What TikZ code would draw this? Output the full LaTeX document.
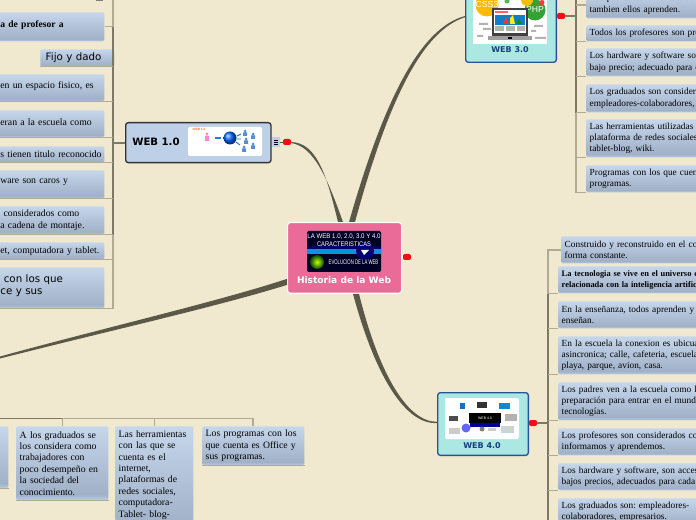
\documentclass[tikz,border=0pt]{standalone}
\usepackage{fontspec}
\setmainfont{Liberation Serif}
\newfontfamily\labelfont{DejaVu Sans}
\newfontfamily\tinyfont{Liberation Sans}
\usetikzlibrary{calc}
\definecolor{paper}{RGB}{240,233,208}
\definecolor{leaftop}{RGB}{198,215,236}
\definecolor{leafmid}{RGB}{160,177,200}
\definecolor{leafend}{RGB}{186,205,230}
\definecolor{branchdark}{RGB}{92,88,72}
\definecolor{trunkdark}{RGB}{125,120,100}
\definecolor{trunklight}{RGB}{176,171,148}
\definecolor{rootpink}{RGB}{234,106,152}
\definecolor{tealbox}{RGB}{172,232,226}
\definecolor{tealedge}{RGB}{40,84,150}
\definecolor{steelbox}{RGB}{189,208,232}
\definecolor{webblue}{RGB}{22,62,130}
\definecolor{dotred}{RGB}{250,10,20}
\pgfdeclareverticalshading{leafshade}{100bp}{color(0bp)=(leafend); color(25bp)=(leafend); color(29bp)=(leafmid); color(75bp)=(leaftop); color(100bp)=(leaftop)}
\newcommand{\cutin}{\hspace*{20pt}}
\tikzset{
  leaf/.style 2 args={shading=leafshade,rounded corners=1pt,anchor=north west,inner xsep=2.6pt,inner ysep=1.3pt,
    minimum width=#1*0.75pt,minimum height=#2*0.75pt,text width=#1*0.75pt-5.2pt,align=left,
    font=\fontsize{7.3}{8.55}\selectfont,execute at begin node={\hyphenpenalty=10000\frenchspacing},execute at end node={\par\vskip 2.4pt}},
  rightleaf/.style 2 args={leaf={#1}{#2},font=\fontsize{7}{8.55}\selectfont},
  tailgap/.style={execute at end node={\vskip #1}},
  sansleaf/.style={font=\labelfont\fontsize{7.7}{9}\selectfont},
  twig/.style={color=trunklight,line width=0.9pt},
  twigdark/.style={color=trunkdark,line width=0.9pt},
  trunk/.style={color=trunkdark,line width=1.3pt},
  trunkpale/.style={color=trunklight,line width=1.3pt},
  mainbranch/.style={fill=branchdark,draw=none},
  topicbox/.style={draw=tealedge,line width=1pt,fill=tealbox,rounded corners=2pt,anchor=north west},
  topiclabel/.style={text=webblue,font=\labelfont\bfseries\fontsize{6}{7}\selectfont},
  reddot/.style={fill=dotred,rounded corners=1.5pt,minimum width=6pt,minimum height=4.5pt,inner sep=0pt},
  tinytext/.style={inner sep=0pt,text=white,font=\tinyfont\fontsize{5}{6}\selectfont},
}
\begin{document}
\begin{tikzpicture}[x=0.75pt,y=0.75pt,yscale=-1,xscale=1]
\useasboundingbox (0,0) rectangle (696,520);
\clip (0,0) rectangle (696,520);
\fill[paper] (0,0) rectangle (696,520);

%Central node
\node[fill=rootpink,draw=white,line width=0.9pt,rounded corners=2pt,anchor=north west,minimum width=85.5pt,minimum height=53pt,inner sep=0pt] (root) at (287,222) {};
\node[text=white,inner sep=0pt,font=\labelfont\bfseries\fontsize{6.8}{8}\selectfont] (roottitle) at (344,280) {Historia de la Web};
\node[reddot] (rootdot) at (407,257) {};

%Topic nodes
\node[topicbox,draw=black!80,fill=steelbox,minimum width=109pt,minimum height=30pt,inner sep=0pt] (web10) at (125,122) {};
\node[font=\labelfont\bfseries\fontsize{7.6}{10}\selectfont,inner sep=0pt] (web10label) at (156,142) {WEB 1.0};
\node[topicbox,minimum width=68pt,minimum height=62pt,inner sep=0pt] (web30) at (465,-21) {};
\node[topiclabel] (web30label) at (510,50) {WEB 3.0};
\node[topicbox,minimum width=68pt,minimum height=47pt,inner sep=0pt] (web40) at (437,392) {};
\node[topiclabel] (web40label) at (482,446) {WEB 4.0};
\node[reddot] (web10dot) at (287,142) {};
\node[reddot] (web30dot) at (561,16) {};
\node[reddot] (web40dot) at (533,423) {};
\node[fill=steelbox,minimum width=6pt,minimum height=7pt,inner sep=0pt] (web10menu) at (276,142) {};
\draw[black,line width=0.6pt] (274,140) -- (278,140) (274,142) -- (278,142) (274,144) -- (278,144);

%Main branches
\fill[mainbranch] ($(root.north west)+(51,0)$) .. controls (326,172) and (316,143) .. (web10dot.east) -- ([yshift=0.8]web10dot.east) .. controls (314,146) and (328,180) .. ($(root.north west)+(56,0)$) -- cycle;
\fill[mainbranch] ($(root.north west)+(62,0)$) .. controls (384,100) and (420,28) .. (web30.west |- web30dot) -- ($(web30.west |- web30dot)+(0,1.2)$) .. controls (422,31) and (388,101) .. ($(root.north west)+(68,0)$) -- cycle;
\fill[mainbranch] ($(root.south west)+(66,0)$) .. controls (374,372) and (404,425) .. (web40.west |- web40dot) -- ($(web40.west |- web40dot)+(0,-1.2)$) .. controls (406,422) and (378,370) .. ($(root.south west)+(72,0)$) -- cycle;
\coordinate (leftend) at (0,356.5);
\fill[mainbranch] ($(root.south west)+(0,-15)$) .. controls (220,301) and (100,329) .. (leftend) -- ++(0,2) .. controls (100,333) and (220,306) .. ($(root.south west)+(0,-9)$) -- cycle;
\draw[branchdark,line width=0.7pt] (web10dot) -- (web10menu);
\draw[branchdark,line width=0.7pt] (web30.east |- web30dot) -- (web30dot);
\draw[branchdark,line width=0.7pt] (web40.east |- web40dot) -- (web40dot);

%Left leaves
\node[leaf={134}{29},tailgap=5.5pt,font=\bfseries\fontsize{7.2}{8.6}\selectfont] (a1) at (-30,12) {\cutin a de profesor a};
\node[leaf={74}{17},sansleaf] (a2) at (40,49) {\hspace*{1.5pt}Fijo y dado};
\node[leaf={134}{27},tailgap=6.5pt] (a3) at (-30,74) {\cutin en un espacio fisico, es};
\node[leaf={134}{27},tailgap=6.5pt] (a4) at (-30,110) {\cutin eran a la escuela como};
\node[leaf={134}{16}] (a5) at (-30,146) {\cutin\mbox{s tienen titulo reconocido}};
\node[leaf={134}{28},tailgap=5pt] (a6) at (-30,170) {\cutin ware son caros y};
\node[leaf={134}{28}] (a7) at (-30,206) {\cutin\ considerados como\\\cutin a cadena de montaje.};
\node[leaf={134}{17}] (a8) at (-30,242) {\cutin et, computadora y tablet.};
\node[leaf={134}{41},tailgap=7.5pt,sansleaf] (a9) at (-30,267) {\cutin\ con los que\\\cutin ce y sus};
\fill[gray] (96,0) rectangle (103,1.5);

%Left trunk
\coordinate (trunkL) at (113,0);
\draw[trunkpale] (trunkL) -- (trunkL |- a1.east);
\draw[trunk] (trunkL |- a1.east) -- (trunkL |- a7.south);
\draw[trunkpale] (trunkL |- a7.south) -- (trunkL |- a9.south);
\draw[trunk,line width=1.6pt] (web10.west) -- (web10.west -| trunkL);
\draw[twig] (a1.east) -- (a1.east -| trunkL);
\foreach \leafname in {a2,a3,a4,a5,a6,a7,a8,a9}
  \draw[twig] (\leafname.south west) -- (\leafname.south east -| trunkL);

%Upper right leaves
\node[rightleaf={250}{28}] (b1) at (586,-10) {Los padres ven a la escuela\\tambien ellos aprenden.};
\node[rightleaf={250}{16}] (b2) at (586,25) {Todos los profesores son pro};
\node[rightleaf={250}{28}] (b3) at (586,48) {Los hardware y software son\\bajo precio; adecuado para c};
\node[rightleaf={250}{28}] (b4) at (586,84) {Los graduados son consider\\empleadores-colaboradores,};
\node[rightleaf={250}{38}] (b5) at (586,119) {Las herramientas utilizadas\\plataforma de redes sociales\\tablet-blog, wiki.};
\node[rightleaf={250}{27}] (b6) at (586,165) {Programas con los que cuen\\programas.};
\coordinate (trunkR) at (576,0);
\draw[trunk] (trunkR) -- (trunkR |- b4.south);
\draw[trunkpale] (trunkR |- b4.south) -- (trunkR |- b6.south);
\draw[twigdark] (web30dot) -- (web30dot -| trunkR);
\draw[trunkpale] (b1.west |- 0,5) -- (trunkR |- 0,5);
\foreach \leafname in {b2,b3,b4,b5,b6}
  \draw[twig] (\leafname.south west) -- (\leafname.south east -| trunkR);

%Lower right leaves
\node[rightleaf={250}{27}] (c1) at (561,236) {Construido y reconstruido en el co\\forma constante.};
\node[leaf={250}{27},font=\bfseries\fontsize{6.3}{8.6}\selectfont] (c2) at (558,266) {La tecnologia se vive en el universo c\\relacionada con la inteligencia artific};
\node[rightleaf={250}{27}] (c3) at (558,301) {En la enseñanza, todos aprenden y t\\enseñan.};
\node[rightleaf={250}{38}] (c4) at (558,336) {En la escuela la conexion es ubicua\\asincronica; calle, cafeteria, escuela\\playa, parque, avion, casa.};
\node[rightleaf={250}{38}] (c5) at (558,382) {Los padres ven a la escuela como la\\preparación para entrar en el mundo\\tecnologías.};
\node[rightleaf={250}{27}] (c6) at (558,428) {Los profesores son considerados co\\informamos y aprendemos.};
\node[rightleaf={250}{27}] (c7) at (558,463) {Los hardware y software, son acces\\bajos precios, adecuados para cada};
\node[rightleaf={250}{27}] (c8) at (558,498) {Los graduados son: empleadores-\\colaboradores, empresarios.};
\coordinate (trunkS) at (548,520);
\draw[trunkpale] (c1.west) -- (c1.west -| trunkS) -- (trunkS |- c2.south);
\draw[trunk] (trunkS |- c2.south) -- (trunkS);
\draw[twigdark] (web40dot) -- (web40dot -| trunkS);
\foreach \leafname in {c2,c3,c4,c5,c6,c7}
  \draw[twig] (\leafname.south west) -- (\leafname.south east -| trunkS);

%Bottom leaves
\node[leaf={20}{62}] (d1) at (-12,426) {};
\node[leaf={92}{74}] (d2) at (16,426) {A los graduados se\\los considera como\\trabajadores con\\poco desempeño en\\la sociedad del\\conocimiento.};
\node[leaf={78}{108}] (d3) at (115,426) {Las herramientas\\con las que se\\cuenta es el\\internet,\\plataformas de\\redes sociales,\\computadora-\\Tablet- blog-\\facebook, wiki.};
\node[leaf={102}{39}] (d4) at (202,426) {Los programas con los\\que cuenta es Office y\\sus programas.};
\coordinate (trunkB) at (0,418.5);
\draw[trunk] (trunkB) -- (d2.north |- trunkB);
\draw[trunkpale] (d2.north |- trunkB) -- (d4.north |- trunkB) -- (d4.north);
\draw[twig] (d2.north |- trunkB) -- (d2.north);
\draw[twig] (d3.north |- trunkB) -- (d3.north);
\draw[twig] (d1.south west) -- (d1.south east);
\draw[twig] (d2.south west) -- (d2.south east);
\draw[twig] (d4.south west) -- (d4.south east);

%Picture in the central node
\fill[rounded corners=1pt,black!85!blue] (307,231) rectangle (381,272);
\fill[blue!40!black] (307,246) rectangle (381,249);
\fill[cyan!80!blue] (307,249) rectangle (381,254);
\fill[blue!45!black] (365,251) circle (9);
\fill[white] (361,250) -- (369,250) -- (364,255) -- cycle;
\shade[inner color=yellow!80!green,outer color=green!30!black] (317,262) circle (7);
\node[tinytext] (pic1) at (344,237) {\scalebox{0.92}[1]{LA WEB 1.0, 2.0, 3.0 Y 4.0}};
\node[tinytext] (pic2) at (344,244.5) {\scalebox{0.86}[1]{CARACTERISTICAS}};
\node[tinytext] (pic3) at (353.5,262) {\scalebox{0.64}[1]{EVOLUCION DE LA WEB}};

%Picture in WEB 1.0
\fill[white,rounded corners=1pt] (188,127) rectangle (262,156);
\node[inner sep=0pt,text=orange,font=\tinyfont\bfseries\fontsize{2.4}{3}\selectfont] (pic10) at (199,129) {WEB 1.0};
\fill[pink!70!magenta] (207,134) circle (1.7) (205,136) rectangle (209,141);
\fill[cyan!70!blue] (215,137) rectangle (221,139);
\shade[ball color=blue!60!cyan] (230,138) circle (6.5);
\foreach \px/\py in {245/131,253/134,246/139,253/144,244/147}{
  \fill[cyan!50!blue!70] (\px,\py) circle (1.5) ($(\px,\py)+(-2,1.5)$) rectangle ($(\px,\py)+(2,5)$);}
\draw[cyan!60!blue,line width=0.7pt] (237,136) -- (241,134) (237,139) -- (241,139) (236,142) -- (240,145);

%Picture in WEB 3.0
\fill[white] (473,-10) rectangle (547,44);
\fill[orange!55!yellow] (487,5) circle (11.5);
\node[inner sep=0pt,text=white,font=\tinyfont\fontsize{6.5}{7}\selectfont] (piccss) at (487,5) {CSS3};
\fill[green!55!black!80] (535,10) circle (10.5);
\node[inner sep=0pt,text=white,font=\tinyfont\fontsize{6.5}{7}\selectfont] (picphp) at (535,10) {PHP};
\fill[orange!50!yellow] (527,0) circle (6);
\fill[red!70!pink] (542,2.5) circle (2.5);
\fill[green!60!black!70] (507,1) circle (2.5);
\fill[gray!60] (479,23) rectangle (488,25) (483,28) rectangle (491,30) (477,35) rectangle (483,37) (534,25) rectangle (543,27) (531,30) rectangle (536,32) (535,37) rectangle (546,39);
\fill[black!75] (492,8) rectangle (528,36);
\fill[white] (494,10) rectangle (526,33);
\fill[red!60] (495,11) rectangle (508,13.5);
\fill[cyan!60!blue] (495,15) rectangle (525,25);
\fill[yellow] (510,18) -- (513,15) -- (515,24) -- (510,24) -- cycle;
\fill[red!80] (503,24) -- (506,17) -- (509,24) -- cycle;
\fill[green!60!black] (516,24) -- (519,19) -- (522,24) -- cycle;
\fill[gray!60] (495,26) rectangle (504,31) (506,26) rectangle (515,31) (517,26) rectangle (525,31);
\fill[gray!75] (488,36) rectangle (532,40.5);
\fill[black] (508,37.5) rectangle (512,39.5);

%Picture in WEB 4.0
\fill[white,rounded corners=1pt] (445,398) rectangle (519,439);
\fill[black] (469,413) rectangle (501,423);
\node[tinytext,font=\tinyfont\fontsize{2.6}{3}\selectfont] (pic40) at (485,418) {WEB 4.0};
\fill[blue!60!black] (470,423) rectangle (500,427);
\fill[cyan!50!blue] (460,403) rectangle (465,409);
\fill[black!80] (477,402) rectangle (487,408);
\fill[cyan!70!blue] (499,403) rectangle (510,409);
\fill[black!70] (449,416) rectangle (458,421);
\fill[gray!60] (505,414) rectangle (517,421);
\fill[blue!60] (466,428) circle (4.5);
\fill[black!50] (482,429) circle (2.5);
\fill[gray!40] (488,428) rectangle (496,431);
\fill[cyan!20!gray!40] (501,426) rectangle (514,433);
\fill[gray!40] (449,428) rectangle (460,434);
\end{tikzpicture}
\end{document}
